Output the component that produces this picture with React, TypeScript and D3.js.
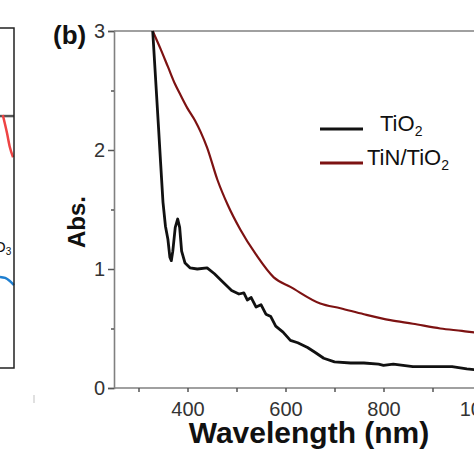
import { useCallback, useEffect, useRef } from 'react';

import {
  axisBottom,
  axisLeft,
  curveLinear,
  curveMonotoneX,
  line,
  range,
  scaleLinear,
  select,
} from 'd3';

// UV-vis absorbance, panel (b)
const tio2Wavelength = [
  329, 335, 341, 345, 350, 355, 360, 364, 367, 370, 375, 380, 384, 388, 395,
  405, 420, 440, 455, 470, 490, 505, 515, 522, 530, 540, 550, 560, 570, 580,
  595, 610, 625, 645, 660, 678, 700, 733, 760, 790, 800, 820, 860, 900, 940,
  970, 1000, 1040,
];
const tio2Abs = [
  3.0, 2.59, 2.18, 1.9, 1.56, 1.36, 1.25, 1.1, 1.07, 1.15, 1.35, 1.42, 1.35,
  1.15, 1.05, 1.01, 1.0, 1.01, 0.96, 0.9, 0.82, 0.79, 0.8, 0.74, 0.76, 0.68,
  0.7, 0.62, 0.6, 0.52, 0.47, 0.4, 0.38, 0.34, 0.3, 0.25, 0.22, 0.21, 0.21,
  0.2, 0.19, 0.2, 0.18, 0.18, 0.18, 0.16, 0.15, 0.14,
];

const tinWavelength = [
  329, 345, 360, 375, 386, 400, 415, 427, 440, 461, 482, 508, 540, 576, 610,
  671, 712, 760, 814, 860, 916, 960, 1000, 1040,
];
const tinAbs = [
  3.0, 2.85, 2.7, 2.55, 2.46, 2.35, 2.25, 2.15, 2.02, 1.75, 1.54, 1.33, 1.12,
  0.93, 0.85, 0.71, 0.67, 0.62, 0.57, 0.54, 0.5, 0.48, 0.46, 0.45,
];

const xTicks = [300, 400, 500, 600, 700, 800, 900, 1000];
const xLabelTicks = [400, 600, 800, 1000];
const yTicks = [0, 0.5, 1, 1.5, 2, 2.5, 3];
const yLabelTicks = [0, 1, 2, 3];

// edge of the neighbouring panel (a)
const aGrayWl = [770, 800];
const aGrayVal = [0.741, 0.741];
const aRedWl = [776, 785, 791, 798];
const aRedVal = [0.744, 0.691, 0.65, 0.62];
const aBlueWl = [770, 781, 791, 800];
const aBlueVal = [0.268, 0.265, 0.256, 0.244];

const sans = '"Liberation Sans", Arial, sans-serif';

export default function App() {
  const containerRef = useRef<HTMLDivElement>(null);

  const initChart = useCallback(() => {
    const container = containerRef.current;
    if (!container) return;

    const div = select(container);
    div.select('svg').remove();

    const width = 474,
      height = 474;

    const svg = div
      .append('svg')
      .attr('width', width)
      .attr('height', height)
      .style('display', 'block')
      .style('background', 'white');

    const axisColor = '#808080';
    const left = 114,
      top = 31,
      bottom = 388;

    const x = scaleLinear().domain([250, 1000]).range([left, 481.5]);
    const y = scaleLinear().domain([0, 3]).range([bottom, top]);

    // frame top
    svg
      .append('line')
      .attr('x1', left)
      .attr('x2', width)
      .attr('y1', top)
      .attr('y2', top)
      .attr('stroke', axisColor)
      .attr('stroke-width', 1.6);

    // X axis
    const gx = svg
      .append('g')
      .attr('transform', `translate(0,${bottom})`)
      .call(
        axisBottom(x)
          .tickValues(xTicks)
          .tickSize(4)
          .tickPadding(10)
          .tickFormat((d) => (xLabelTicks.includes(Number(d)) ? String(d) : ''))
      );
    gx.select('.domain')
      .attr('stroke', axisColor)
      .attr('stroke-width', 1.6)
      .attr('d', `M${left},0H${width}`);
    gx.selectAll('.tick line').attr('stroke', '#555').attr('stroke-width', 1.5);
    gx.selectAll('.tick text')
      .attr('fill', '#333')
      .style('font-family', sans)
      .style('font-size', '20px');

    // Y axis
    const gy = svg
      .append('g')
      .attr('transform', `translate(${left},0)`)
      .call(
        axisLeft(y)
          .tickValues(yTicks)
          .tickSize(6)
          .tickPadding(3)
          .tickFormat((d) => (yLabelTicks.includes(Number(d)) ? String(d) : ''))
      );
    gy.select('.domain').attr('stroke', axisColor).attr('stroke-width', 1.6);
    gy.selectAll<SVGLineElement, number>('.tick line')
      .attr('stroke', '#555')
      .attr('stroke-width', 1.5)
      .attr('x2', (d) => (yLabelTicks.includes(d) ? -6 : -3));
    gy.selectAll('.tick text')
      .attr('fill', '#333')
      .style('font-family', sans)
      .style('font-size', '20px');

    // absorbance curves
    const tio2 = tio2Wavelength.map((w, i) => [w, tio2Abs[i]] as [number, number]);
    const tin = tinWavelength.map((w, i) => [w, tinAbs[i]] as [number, number]);

    svg
      .append('path')
      .datum(tin)
      .attr('fill', 'none')
      .attr('stroke', '#7d1212')
      .attr('stroke-width', 2.2)
      .attr(
        'd',
        line<[number, number]>()
          .x((d) => x(d[0]))
          .y((d) => y(d[1]))
          .curve(curveMonotoneX)
      );

    svg
      .append('path')
      .datum(tio2)
      .attr('fill', 'none')
      .attr('stroke', '#111')
      .attr('stroke-width', 2.8)
      .attr('stroke-linejoin', 'round')
      .attr(
        'd',
        line<[number, number]>()
          .x((d) => x(d[0]))
          .y((d) => y(d[1]))
          .curve(curveLinear)
      );

    // legend
    const legend = svg.append('g').style('font-family', sans);
    const legendItems = [
      { label: 'TiO', color: '#111', lx: 320, ly: 129, tx: 380, ty: 131 },
      { label: 'TiN/TiO', color: '#7d1212', lx: 320, ly: 163, tx: 367, ty: 165 },
    ];
    legendItems.forEach((item) => {
      legend
        .append('line')
        .attr('x1', item.lx)
        .attr('x2', item.lx + 43)
        .attr('y1', item.ly)
        .attr('y2', item.ly)
        .attr('stroke', item.color)
        .attr('stroke-width', 3);
      const t = legend
        .append('text')
        .attr('x', item.tx)
        .attr('y', item.ty)
        .attr('fill', '#111')
        .style('font-size', '22px')
        .text(item.label);
      t.append('tspan').attr('dy', 5).style('font-size', '14px').text('2');
    });

    // axis titles
    svg
      .append('text')
      .attr('x', 309)
      .attr('y', 443)
      .attr('text-anchor', 'middle')
      .attr('fill', '#111')
      .style('font-family', sans)
      .style('font-weight', 'bold')
      .style('font-size', '30px')
      .text('Wavelength (nm)');

    svg
      .append('text')
      .attr('transform', 'translate(85,222) rotate(-90)')
      .attr('text-anchor', 'middle')
      .attr('fill', '#111')
      .style('font-family', sans)
      .style('font-weight', 'bold')
      .style('font-size', '24px')
      .text('Abs.');

    svg
      .append('text')
      .attr('x', 53)
      .attr('y', 44)
      .attr('fill', '#111')
      .style('font-family', sans)
      .style('font-weight', 'bold')
      .style('font-size', '26px')
      .text('(b)');

    // right edge of panel (a)
    const ax = scaleLinear().domain([770, 800]).range([0, 14]);
    const ay = scaleLinear().domain([0, 1]).range([368, 28]);
    const aLine = line<[number, number]>()
      .x((d) => ax(d[0]))
      .y((d) => ay(d[1]))
      .curve(curveMonotoneX);

    const aSeries = [
      { wl: aGrayWl, val: aGrayVal, color: '#555' },
      { wl: aRedWl, val: aRedVal, color: '#ee4444' },
      { wl: aBlueWl, val: aBlueVal, color: '#1f7fd0' },
    ];
    aSeries.forEach((s) => {
      svg
        .append('path')
        .datum(s.wl.map((w, i) => [w, s.val[i]] as [number, number]))
        .attr('fill', 'none')
        .attr('stroke', s.color)
        .attr('stroke-width', 2.5)
        .attr('d', aLine);
    });

    svg
      .append('path')
      .attr('fill', 'none')
      .attr('stroke', '#222')
      .attr('stroke-width', 1.5)
      .attr(
        'd',
        `M${ax(770)},${ay(1)}H${ax(800)}V${ay(0)}H${ax(770)}`
      );

    const aText = svg
      .append('text')
      .attr('x', ax(770) - 6)
      .attr('y', 252)
      .attr('fill', '#111')
      .style('font-family', sans)
      .style('font-size', '15px')
      .text('O');
    aText.append('tspan').attr('dy', 3).style('font-size', '10px').text('3');

    // faint tick below panel (a)
    svg
      .append('g')
      .selectAll('line')
      .data(range(1))
      .join('line')
      .attr('x1', 34)
      .attr('x2', 34)
      .attr('y1', 395)
      .attr('y2', 403)
      .attr('stroke', '#ccc')
      .attr('stroke-width', 1.2);
  }, []);

  const destroyChart = useCallback(() => {
    const container = containerRef.current;
    if (!container) return;
    select(container).select('svg').remove();
  }, []);

  useEffect(() => {
    initChart();
    return destroyChart;
  }, [destroyChart, initChart]);

  return (
    <div
      ref={containerRef}
      style={{ position: 'absolute', left: 0, top: 0, width: 474, height: 474, overflow: 'hidden' }}
    />
  );
}
